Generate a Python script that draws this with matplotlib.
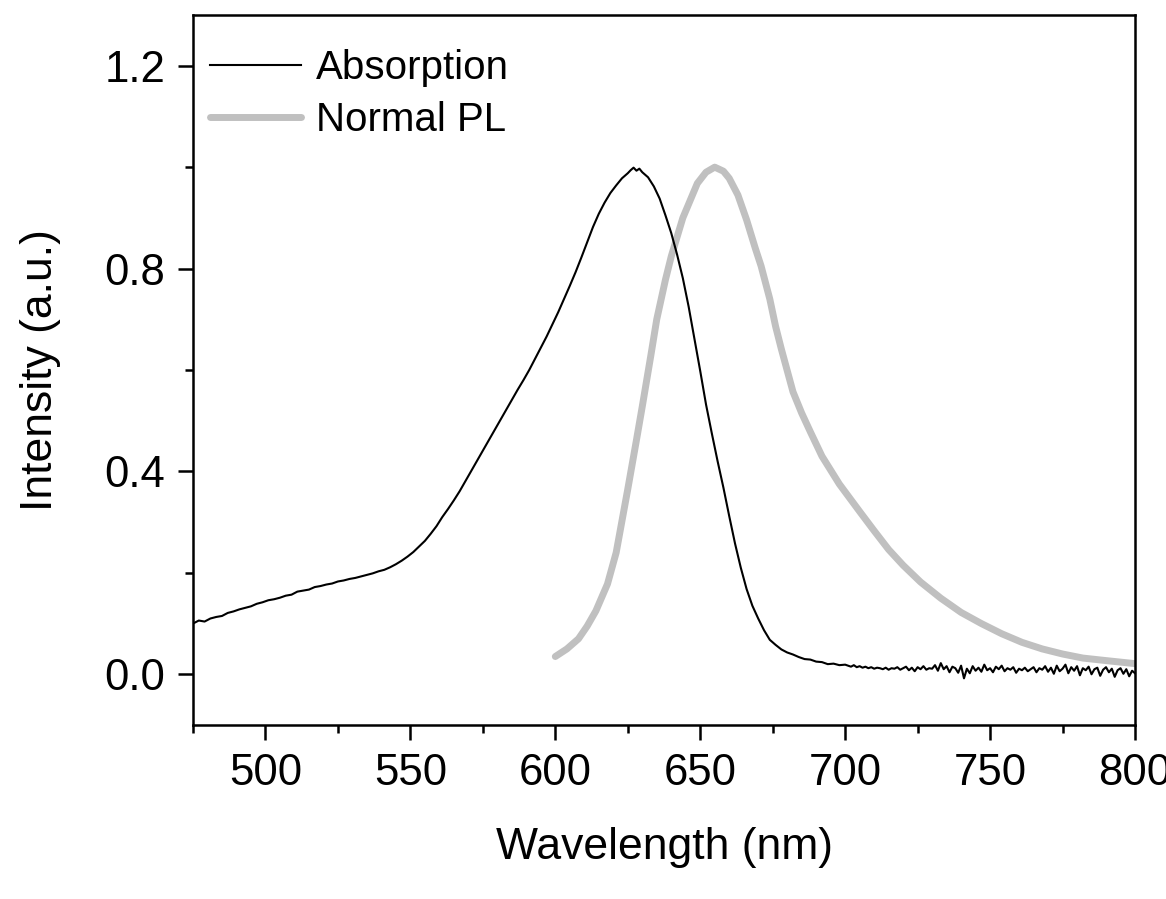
import matplotlib
matplotlib.use("Agg")
import matplotlib.pyplot as plt
from matplotlib.ticker import MultipleLocator
from matplotlib import font_manager

# ---------------- data ----------------
abs_wl = [475, 477, 479, 481, 483, 485, 487, 489, 491, 493, 495, 497, 499, 501, 503, 505,
          507, 509, 511, 513, 515, 517, 519, 521, 523, 525, 527, 529, 531, 533, 535, 537,
          539, 541, 543, 545, 547, 549, 551, 553, 555, 557, 559, 561, 563, 565, 567, 569,
          571, 573, 575, 577, 579, 581, 583, 585, 587, 589, 591, 593, 595, 597, 599, 601,
          603, 605, 607, 609, 611, 613, 615, 617, 619, 621, 623, 625, 626, 627, 628, 629,
          630, 632, 634, 636, 638, 640, 642, 644, 646, 648, 650, 652, 654, 656, 658, 660,
          662, 664, 666, 668, 670, 672, 674, 676, 678, 680, 682, 684, 686, 688, 690, 692,
          694, 696, 698, 700,
          701, 702, 703, 704, 705, 706, 707, 708, 709, 710, 711, 712, 713, 714, 715, 716,
          717, 718, 719, 720, 721, 722, 723, 724, 725, 726, 727, 728, 729, 730, 731, 732,
          733, 734, 735, 736, 737, 738, 739, 740, 741, 742, 743, 744, 745, 746, 747, 748,
          749, 750, 751, 752, 753, 754, 755, 756, 757, 758, 759, 760, 761, 762, 763, 764,
          765, 766, 767, 768, 769, 770, 771, 772, 773, 774, 775, 776, 777, 778, 779, 780,
          781, 782, 783, 784, 785, 786, 787, 788, 789, 790, 791, 792, 793, 794, 795, 796,
          797, 798, 799, 800]
abs_val = [0.100, 0.106, 0.104, 0.110, 0.113, 0.115, 0.121, 0.124, 0.128, 0.131, 0.134, 0.139,
           0.142, 0.146, 0.148, 0.151, 0.155, 0.157, 0.163, 0.165, 0.167, 0.172, 0.174, 0.177,
           0.179, 0.183, 0.185, 0.188, 0.190, 0.193, 0.196, 0.199, 0.203, 0.206, 0.211, 0.217,
           0.224, 0.232, 0.241, 0.252, 0.263, 0.277, 0.292, 0.310, 0.326, 0.343, 0.361, 0.381,
           0.401, 0.421, 0.441, 0.461, 0.481, 0.501, 0.521, 0.541, 0.561, 0.580, 0.600, 0.622,
           0.644, 0.666, 0.690, 0.714, 0.740, 0.766, 0.793, 0.822, 0.852, 0.882, 0.908, 0.930,
           0.949, 0.964, 0.978, 0.988, 0.994, 0.999, 0.993, 0.997, 0.990, 0.980, 0.962, 0.938,
           0.905, 0.870, 0.828, 0.781, 0.725, 0.662, 0.598, 0.532, 0.475, 0.420, 0.368, 0.312,
           0.258, 0.210, 0.168, 0.135, 0.110, 0.087, 0.068, 0.058, 0.049, 0.043, 0.039, 0.034,
           0.030, 0.029, 0.025, 0.024, 0.020, 0.021, 0.018, 0.019,
           0.017, 0.015, 0.018, 0.014, 0.016, 0.013, 0.015, 0.012, 0.014, 0.011, 0.013, 0.012,
           0.010, 0.013, 0.009, 0.012, 0.011, 0.014, 0.009, 0.012, 0.015, 0.008, 0.013, 0.006,
           0.014, 0.010, 0.016, 0.009, 0.012, 0.011, 0.018, 0.007, 0.022, 0.010, 0.016, 0.004,
           0.015, 0.012, 0.003, 0.017, -0.008, 0.011, 0.002, 0.016, 0.007, 0.013, 0.005, 0.019,
           0.008, 0.012, 0.004, 0.015, 0.010, 0.017, 0.006, 0.012, 0.009, 0.014, 0.003, 0.011,
           0.008, 0.013, 0.006, 0.010, 0.014, 0.004, 0.012, 0.009, 0.016, 0.005, 0.013, 0.001,
           0.017, 0.006, 0.011, 0.019, 0.002, 0.014, 0.007, 0.016, -0.002, 0.012, 0.008, 0.015,
           0.000, 0.010, 0.013, -0.003, 0.009, 0.014, 0.004, 0.011, -0.005, 0.008, 0.012, 0.001,
           0.010, -0.004, 0.007, 0.002]

pl_wl = [600, 604, 608, 611, 614, 618, 621, 625, 628, 630, 633, 635, 638, 640, 644, 649,
         652, 655, 658, 660, 663, 666, 669, 671, 674, 676, 678, 682, 685, 688, 692, 698,
         705, 710, 715, 720, 726, 733, 740, 747, 754, 761, 768, 775, 782, 790, 800]
pl_val = [0.035, 0.050, 0.070, 0.095, 0.125, 0.178, 0.240, 0.365, 0.462, 0.528, 0.630,
          0.700, 0.778, 0.824, 0.900, 0.968, 0.990, 1.000, 0.992, 0.978, 0.945, 0.896,
          0.840, 0.805, 0.740, 0.686, 0.641, 0.557, 0.515, 0.478, 0.430, 0.375, 0.321,
          0.283, 0.246, 0.215, 0.182, 0.150, 0.122, 0.100, 0.080, 0.063, 0.050, 0.040,
          0.032, 0.027, 0.021]

xticks = [500, 550, 600, 650, 700, 750, 800]
yticks = [0.0, 0.4, 0.8, 1.2]

# ---------------- style ----------------
fams = {f.name for f in font_manager.fontManager.ttflist}
main_font = 'Liberation Sans' if 'Liberation Sans' in fams else 'DejaVu Sans'
plt.rcParams['font.family'] = [main_font, 'DejaVu Sans']

fig = plt.figure(figsize=(11.66, 8.99), dpi=100)
ax = fig.add_axes([193 / 1166, 1 - 725 / 899, (1135 - 193) / 1166, (725 - 15) / 899])

ax.plot(abs_wl, abs_val, color='black', lw=1.5, label='Absorption', zorder=3)
ax.plot(pl_wl, pl_val, color='#c0c0c0', lw=5, solid_capstyle='round',
        label='Normal PL', zorder=2)

ax.set_xlim(475, 800)
ax.set_ylim(-0.1, 1.3)
ax.set_xticks(xticks)
ax.set_yticks(yticks)
ax.set_yticklabels([f"{v:.1f}" for v in yticks])
ax.xaxis.set_minor_locator(MultipleLocator(25))
ax.yaxis.set_minor_locator(MultipleLocator(0.2))

for s in ax.spines.values():
    s.set_linewidth(1.8)
ax.tick_params(which='major', direction='out', length=11, width=1.8, labelsize=31.5, pad=9)
ax.tick_params(which='minor', direction='out', length=5.5, width=1.8)
ax.tick_params(top=False, right=False)

ax.set_xlabel('Wavelength (nm)', fontsize=32, labelpad=24)
ax.set_ylabel('Intensity (a.u.)', fontsize=32, labelpad=31)

leg = ax.legend(loc='upper left', frameon=False, fontsize=29, handlelength=2.25,
                handletextpad=0.37, labelspacing=0.35, borderaxespad=0.0,
                bbox_to_anchor=(0.001, 0.975))

fig.savefig('out.png', dpi=100)
